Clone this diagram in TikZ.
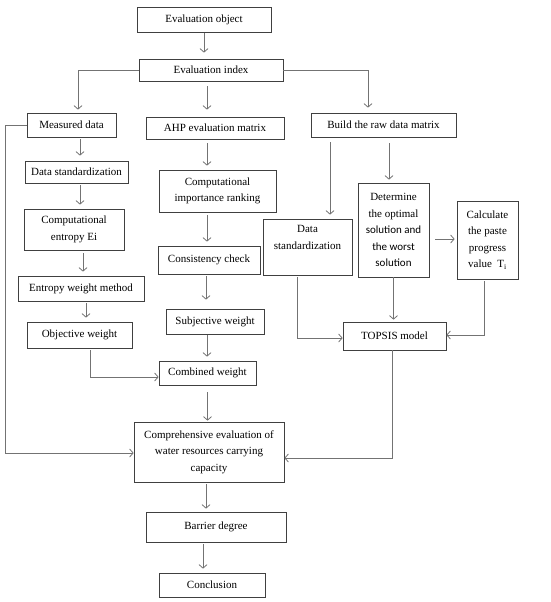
\documentclass[tikz,border=0pt]{standalone}
\usepackage{fontspec}
\setmainfont{Liberation Serif}
\newfontfamily\calibri{Carlito}
\usetikzlibrary{arrows.meta}

\begin{document}
\begin{tikzpicture}[x=1pt,y=-1pt,->,>={Straight Barb[length=3.5pt,width=8pt]}]
		\tikzstyle{box}  = [rectangle,draw=black!75,line width=0.7pt,inner sep=1pt,align=center,font=\fontsize{11}{16.5}\selectfont]
		\tikzstyle{line} = [draw=black!55,line width=0.8pt]
		\useasboundingbox (0,0) rectangle (550,602);
		
		\node[box,minimum width=134pt,minimum height=25pt] (obj)   at (204,19.5)  {Evaluation object};
		\node[box,minimum width=144pt,minimum height=22pt] (index) at (211,70)    {Evaluation index};
		\node[box,minimum width=89pt, minimum height=24pt] (meas)  at (71.5,125)  {Measured data};
		\node[box,minimum width=138pt,minimum height=22pt] (ahp)   at (215,128)   {AHP evaluation matrix};
		\node[box,minimum width=145pt,minimum height=24pt] (raw)   at (383.5,125) {Build the raw data matrix};
		\node[box,minimum width=103pt,minimum height=22pt] (std1)  at (76.5,172)  {Data standardization};
		\node[box,minimum width=117pt,minimum height=42pt] (rank)  at (217.5,191) {Computational\\importance ranking};
		\node[box,minimum width=89pt, minimum height=56pt] (std2)  at (307.5,247) {Data\\standardization\\[3pt]};
		\node[box,minimum width=71pt, minimum height=94pt] (det)   at (393.5,230) {Determine\\the optimal\\{\calibri solution and}\\{\calibri the worst}\\{\calibri solution}};
		\node[box,minimum width=61pt, minimum height=78pt] (calc)  at (487.5,240) {Calculate\\the paste\\progress\\value~ T\textsubscript{i}};
		\node[box,minimum width=100pt,minimum height=41pt] (ent)   at (74,229.5)  {Computational\\entropy Ei};
		\node[box,minimum width=102pt,minimum height=28pt] (cons)  at (209,260)   {Consistency check};
		\node[box,minimum width=126pt,minimum height=25pt] (ewm)   at (81,288.5)  {Entropy weight method};
		\node[box,minimum width=105pt,minimum height=26pt] (obw)   at (79.5,335)  {Objective weight};
		\node[box,minimum width=98pt, minimum height=25pt] (sub)   at (215,321.5) {Subjective weight};
		\node[box,minimum width=103pt,minimum height=28pt] (topsis)at (394.5,336) {TOPSIS model};
		\node[box,minimum width=97pt, minimum height=24pt] (comb)  at (207.5,373) {Combined weight};
		\node[box,minimum width=150pt,minimum height=60pt] (comp)  at (209,452)   {Comprehensive evaluation of\\water resources carrying\\capacity};
		\node[box,minimum width=140pt,minimum height=30pt] (barr)  at (216,527)   {Barrier degree};
		\node[box,minimum width=106pt,minimum height=24pt] (concl) at (212,585)   {Conclusion};
		
		% top part
		\draw[line,shorten <=1pt,shorten >=6pt] (obj.south) -- (obj.south |- index.north);
		\draw[line,shorten >=3pt] (index.west) -| ([xshift=6.5pt]meas.north);
		\draw[line,shorten <=5pt,shorten >=7pt] ([xshift=-4pt]index.south) -- ([xshift=-4pt]index.south |- ahp.north);
		\draw[line,shorten >=5pt] (index.east) -| ([xshift=-15.5pt]raw.north);
		
		% entropy weight branch
		\draw[line,shorten <=2pt,shorten >=5pt] ([xshift=8.5pt]meas.south) -- ([xshift=8.5pt]meas.south |- std1.north);
		\draw[line,shorten <=2pt,shorten >=4pt] ([xshift=3.5pt]std1.south) -- ([xshift=3.5pt]std1.south |- ent.north);
		\draw[line,shorten <=3pt,shorten >=4pt] ([xshift=9pt]ent.south) -- ([xshift=9pt]ent.south |- ewm.north);
		\draw[line,shorten <=2pt,shorten >=4pt] ([xshift=5pt]ewm.south) -- ([xshift=5pt]ewm.south |- obw.north);
		\draw[line,shorten <=2pt] ([xshift=10.5pt]obw.south) |- ([yshift=-4pt]comb.west);
		
		% AHP branch
		\draw[line,shorten <=4pt,shorten >=4pt] ([xshift=-8pt]ahp.south) -- ([xshift=-8pt]ahp.south |- rank.north);
		\draw[line,shorten <=3pt,shorten >=4pt] ([xshift=-10.5pt]rank.south) -- ([xshift=-10.5pt]rank.south |- cons.north);
		\draw[line,shorten <=2pt,shorten >=9pt] ([xshift=-3pt]cons.south) -- ([xshift=-3pt]cons.south |- sub.north);
		\draw[line,shorten <=1pt,shorten >=4pt] ([xshift=-8pt]sub.south) -- ([xshift=-8pt]sub.south |- comb.north);
		
		% TOPSIS branch
		\draw[line,shorten <=5pt,shorten >=4pt] ([xshift=-53.5pt]raw.south) -- ([xshift=-53.5pt]raw.south |- std2.north);
		\draw[line,shorten <=6pt,shorten >=3pt] ([xshift=5.5pt]raw.south) -- ([xshift=5.5pt]raw.south |- det.north);
		\draw[line,shorten <=6pt,shorten >=2pt] ([yshift=-9pt]det.east) -- ([yshift=-9pt]det.east -| calc.west);
		\draw[line,shorten <=2pt] ([xshift=-10.5pt]std2.south) |- ([yshift=-2pt]topsis.west);
		\draw[line,shorten >=2pt] (det.south) -- (det.south |- topsis.north);
		\draw[line,shorten <=2pt] ([xshift=-3.5pt]calc.south) |- ([yshift=1pt]topsis.east);
		
		% bottom part
		\draw[line] ([xshift=-2.5pt]topsis.south) |- ([yshift=-6pt]comp.east);
		\draw[line] (meas.west) -- ++(-21,0) |- ([yshift=-1pt]comp.west);
		\draw[line,shorten <=7pt,shorten >=1pt] (comb.south) -- (comb.south |- comp.north);
		\draw[line,shorten <=2pt,shorten >=3pt] ([xshift=-3pt]comp.south) -- ([xshift=-3pt]comp.south |- barr.north);
		\draw[line,shorten <=2pt,shorten >=4pt] ([xshift=-13pt]barr.south) -- ([xshift=-13pt]barr.south |- concl.north);
	\end{tikzpicture}
\end{document}
